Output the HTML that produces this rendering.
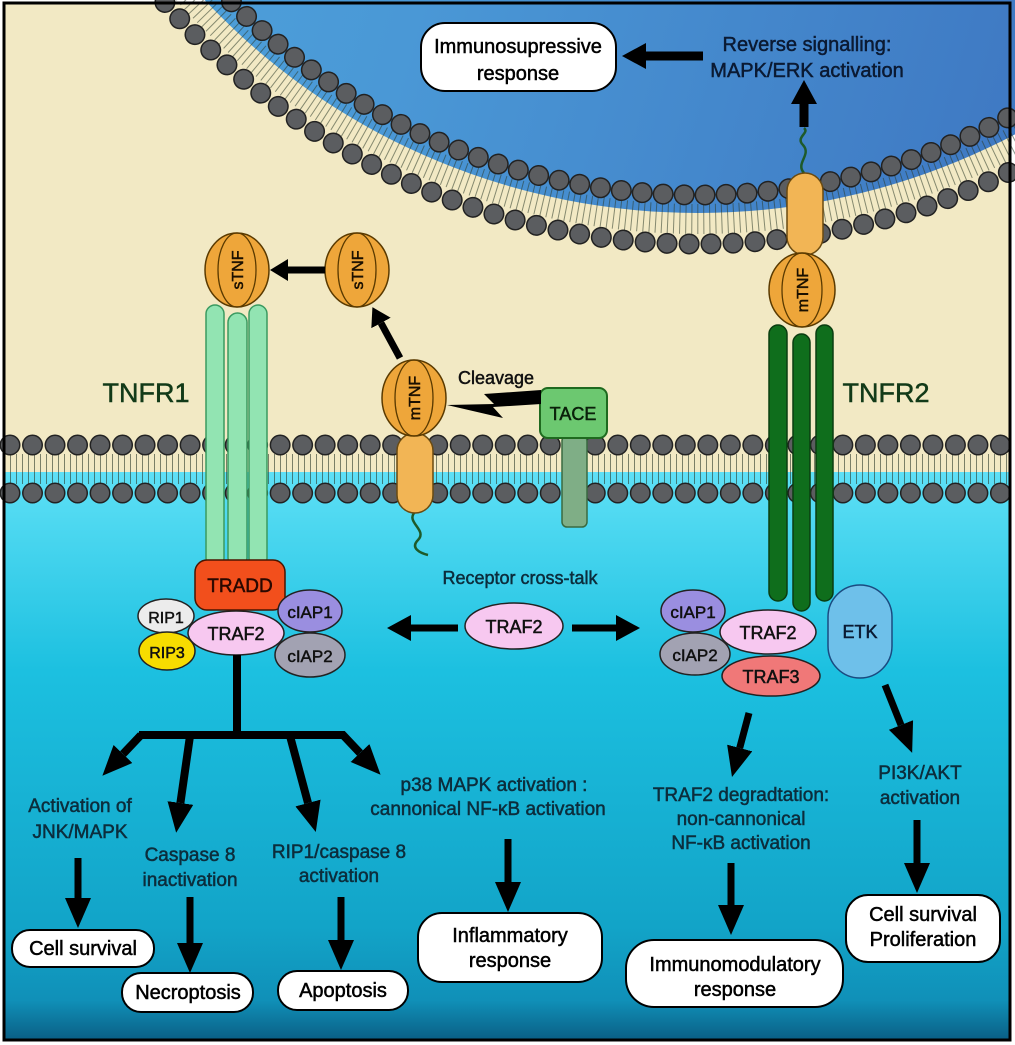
<!DOCTYPE html>
<html><head><meta charset="utf-8"><style>
html,body{margin:0;padding:0;background:#fff;}
svg{display:block;}
text{font-family:"Liberation Sans",sans-serif;stroke:currentColor;stroke-width:0.5px;}
</style></head><body>
<svg width="1015" height="1045" viewBox="0 0 1015 1045" xmlns="http://www.w3.org/2000/svg">
<defs>
<linearGradient id="cy" x1="0" y1="0" x2="0" y2="1">
<stop offset="0" stop-color="#5ee0f6"/>
<stop offset="0.35" stop-color="#1cc0e0"/>
<stop offset="0.8" stop-color="#12a4c8"/>
<stop offset="0.93" stop-color="#1090b8"/>
<stop offset="1" stop-color="#0a5f85"/>
</linearGradient>
<linearGradient id="bl" x1="0" y1="0" x2="1" y2="0.3">
<stop offset="0" stop-color="#52aee0"/>
<stop offset="0.5" stop-color="#4a98d6"/>
<stop offset="1" stop-color="#3d74c0"/>
</linearGradient>
<marker id="s" markerUnits="userSpaceOnUse" orient="auto" viewBox="0 0 10 10" refX="0" refY="5" markerWidth="18" markerHeight="22" preserveAspectRatio="none"><path d="M0,0 L10,5 L0,10 z" fill="#000"/></marker>
<marker id="m" markerUnits="userSpaceOnUse" orient="auto" viewBox="0 0 10 10" refX="0" refY="5" markerWidth="24" markerHeight="26" preserveAspectRatio="none"><path d="M0,0 L10,5 L0,10 z" fill="#000"/></marker>
<marker id="b" markerUnits="userSpaceOnUse" orient="auto" viewBox="0 0 10 10" refX="0" refY="5" markerWidth="30" markerHeight="26" preserveAspectRatio="none"><path d="M0,0 L10,5 L0,10 z" fill="#000"/></marker>
</defs>

<rect x="0" y="0" width="1015" height="1045" fill="#fff"/>
<rect x="4" y="3" width="1006" height="470" fill="#f2e9c4"/>
<rect x="4" y="472" width="1006" height="568" fill="url(#cy)"/>

<g>
<circle cx="698" cy="-465" r="678" fill="url(#bl)"/>
<circle cx="698" cy="-465" r="684" fill="none" stroke="#2b3a2a" stroke-width="30" stroke-dasharray="1 5" opacity="0.55"/>
<circle cx="698" cy="-465" r="709" fill="none" stroke="#222" stroke-width="21" stroke-dasharray="0.01 22" stroke-linecap="round"/>
<circle cx="698" cy="-465" r="709" fill="none" stroke="#5b5d60" stroke-width="18" stroke-dasharray="0.01 22" stroke-linecap="round"/>
<circle cx="698" cy="-465" r="660" fill="none" stroke="#222" stroke-width="21" stroke-dasharray="0.01 21" stroke-linecap="round"/>
<circle cx="698" cy="-465" r="660" fill="none" stroke="#5b5d60" stroke-width="18" stroke-dasharray="0.01 21" stroke-linecap="round"/>
</g>

<line x1="4" y1="469" x2="1010" y2="469" stroke="#2b3a2a" stroke-width="30" stroke-dasharray="1 5" opacity="0.6"/>
<line x1="10" y1="445" x2="1010" y2="445" stroke="#222" stroke-width="21" stroke-dasharray="0.01 22.5" stroke-linecap="round"/>
<line x1="10" y1="445" x2="1010" y2="445" stroke="#5b5d60" stroke-width="18" stroke-dasharray="0.01 22.5" stroke-linecap="round"/>
<line x1="10" y1="493" x2="1010" y2="493" stroke="#222" stroke-width="21" stroke-dasharray="0.01 22.5" stroke-linecap="round"/>
<line x1="10" y1="493" x2="1010" y2="493" stroke="#5b5d60" stroke-width="18" stroke-dasharray="0.01 22.5" stroke-linecap="round"/>

<rect x="421" y="23" width="195" height="68" rx="24" fill="#fff" stroke="#000" stroke-width="2"/>
<text x="518" y="53" font-size="20" text-anchor="middle" fill="#000" color="#000">Immunosupressive</text>
<text x="518" y="80" font-size="20" text-anchor="middle" fill="#000" color="#000">response</text>
<text x="807" y="51" font-size="20" text-anchor="middle" fill="#0b1a33" color="#0b1a33">Reverse signalling:</text>
<text x="807" y="77" font-size="20" text-anchor="middle" fill="#0b1a33" color="#0b1a33">MAPK/ERK activation</text>
<line x1="703" y1="56" x2="646" y2="56" stroke="#000" stroke-width="9" marker-end="url(#m)"/>
<line x1="804" y1="127" x2="804" y2="104" stroke="#000" stroke-width="9" marker-end="url(#m)"/>
<path d="M804,173 C795,163 812,155 803,145 C795,137 810,133 804,128" fill="none" stroke="#1e5a2a" stroke-width="2.5"/>

<rect x="787" y="173" width="36" height="82" rx="18" fill="#f2b555" stroke="#6a4a10" stroke-width="1.5"/>
<g>
<ellipse cx="802" cy="290" rx="33" ry="37" fill="#eea63a" stroke="#5a3a00" stroke-width="1.5"/>
<ellipse cx="802" cy="290" rx="20" ry="37" fill="none" stroke="#5a3a00" stroke-width="1.3"/>
<text x="0" y="0" font-size="16" text-anchor="middle" fill="#1a1000" color="#1a1000" transform="translate(808,290) rotate(-90)">mTNF</text>
</g>
<rect x="769" y="325" width="18" height="276" rx="9" fill="#0f6e1c" stroke="#0a3d10" stroke-width="1.5"/>
<rect x="793" y="334" width="17" height="277" rx="8.5" fill="#0f6e1c" stroke="#0a3d10" stroke-width="1.5"/>
<rect x="816" y="325" width="17" height="276" rx="8.5" fill="#0f6e1c" stroke="#0a3d10" stroke-width="1.5"/>
<text x="886" y="402" font-size="27" text-anchor="middle" fill="#123a18" color="#123a18">TNFR2</text>

<rect x="206" y="305" width="18" height="262" rx="9" fill="#92e4b2" stroke="#3a9a60" stroke-width="1.5"/>
<rect x="228" y="313" width="19" height="254" rx="9.5" fill="#92e4b2" stroke="#3a9a60" stroke-width="1.5"/>
<rect x="249" y="305" width="18" height="262" rx="9" fill="#92e4b2" stroke="#3a9a60" stroke-width="1.5"/>
<text x="146" y="402" font-size="27" text-anchor="middle" fill="#123a18" color="#123a18">TNFR1</text>

<g>
<ellipse cx="237" cy="270" rx="32" ry="37" fill="#eea63a" stroke="#5a3a00" stroke-width="1.5"/>
<ellipse cx="237" cy="270" rx="19" ry="37" fill="none" stroke="#5a3a00" stroke-width="1.3"/>
<text x="0" y="0" font-size="16" text-anchor="middle" fill="#1a1000" color="#1a1000" transform="translate(243,270) rotate(-90)">sTNF</text>
</g>
<g>
<ellipse cx="357" cy="270" rx="32" ry="37" fill="#eea63a" stroke="#5a3a00" stroke-width="1.5"/>
<ellipse cx="357" cy="270" rx="19" ry="37" fill="none" stroke="#5a3a00" stroke-width="1.3"/>
<text x="0" y="0" font-size="16" text-anchor="middle" fill="#1a1000" color="#1a1000" transform="translate(363,270) rotate(-90)">sTNF</text>
</g>
<line x1="325" y1="270" x2="288" y2="270" stroke="#000" stroke-width="7" marker-end="url(#s)"/>
<line x1="400" y1="358" x2="381" y2="323" stroke="#000" stroke-width="7" marker-end="url(#s)"/>

<path d="M415,512 C405,522 428,530 418,540 C410,548 420,553 428,555" fill="none" stroke="#1e5a2a" stroke-width="2.5"/>
<rect x="397" y="433" width="36" height="80" rx="18" fill="#f2b555" stroke="#6a4a10" stroke-width="1.5"/>
<g>
<ellipse cx="414" cy="398" rx="32" ry="38" fill="#eea63a" stroke="#5a3a00" stroke-width="1.5"/>
<ellipse cx="414" cy="398" rx="19" ry="38" fill="none" stroke="#5a3a00" stroke-width="1.3"/>
<text x="0" y="0" font-size="16" text-anchor="middle" fill="#1a1000" color="#1a1000" transform="translate(420,398) rotate(-90)">mTNF</text>
</g>
<text x="496" y="384" font-size="18" text-anchor="middle" fill="#111" color="#111">Cleavage</text>
<rect x="562" y="436" width="25" height="91" rx="5" fill="#7fae86" stroke="#3a6a40" stroke-width="1.5"/>
<rect x="540" y="388" width="67" height="50" rx="8" fill="#6cc870" stroke="#1f6a1f" stroke-width="2"/>
<text x="573" y="420" font-size="18" text-anchor="middle" fill="#0a200a" color="#0a200a">TACE</text>
<polygon points="541,390 484,394 494,404 447,405 503,418 493,407 541,404" fill="#000"/>

<rect x="195" y="560" width="90" height="50" rx="12" fill="#f24f1c" stroke="#4a1500" stroke-width="1.5"/>
<text x="240" y="592" font-size="19" text-anchor="middle" fill="#2a0800" color="#2a0800">TRADD</text>
<ellipse cx="166" cy="616" rx="28" ry="17" fill="#ececec" stroke="#222" stroke-width="1.5"/>
<text x="166" y="623" font-size="16" text-anchor="middle" fill="#111" color="#111">RIP1</text>
<ellipse cx="167" cy="651" rx="28" ry="19" fill="#f7dc00" stroke="#222" stroke-width="1.5"/>
<text x="167" y="658" font-size="16" text-anchor="middle" fill="#111" color="#111">RIP3</text>
<ellipse cx="310" cy="611" rx="32" ry="21" fill="#9a8ee0" stroke="#222" stroke-width="1.5"/>
<text x="310" y="618" font-size="17" text-anchor="middle" fill="#111" color="#111">cIAP1</text>
<ellipse cx="310" cy="655" rx="35" ry="22" fill="#a2a2b2" stroke="#222" stroke-width="1.5"/>
<text x="310" y="662" font-size="17" text-anchor="middle" fill="#111" color="#111">cIAP2</text>
<ellipse cx="236" cy="633" rx="48" ry="22" fill="#f7c8f0" stroke="#222" stroke-width="1.5"/>
<text x="236" y="640" font-size="18" text-anchor="middle" fill="#111" color="#111">TRAF2</text>

<text x="520" y="584" font-size="18" text-anchor="middle" fill="#0c2d3c" color="#0c2d3c">Receptor cross-talk</text>
<ellipse cx="514" cy="626" rx="49" ry="23" fill="#f7c8f0" stroke="#222" stroke-width="1.5"/>
<text x="514" y="633" font-size="18" text-anchor="middle" fill="#111" color="#111">TRAF2</text>
<line x1="458" y1="628" x2="411" y2="628" stroke="#000" stroke-width="7" marker-end="url(#m)"/>
<line x1="572" y1="628" x2="616" y2="628" stroke="#000" stroke-width="7" marker-end="url(#m)"/>

<rect x="828" y="585" width="64" height="93" rx="32" fill="#6ec0ea" stroke="#1a4a80" stroke-width="1.5"/>
<text x="860" y="638" font-size="18" text-anchor="middle" fill="#0a1a33" color="#0a1a33">ETK</text>
<ellipse cx="693" cy="611" rx="32" ry="21" fill="#9a8ee0" stroke="#222" stroke-width="1.5"/>
<text x="693" y="618" font-size="17" text-anchor="middle" fill="#111" color="#111">cIAP1</text>
<ellipse cx="695" cy="654" rx="35" ry="21" fill="#a2a2b2" stroke="#222" stroke-width="1.5"/>
<text x="695" y="661" font-size="17" text-anchor="middle" fill="#111" color="#111">cIAP2</text>
<ellipse cx="771" cy="676" rx="49" ry="20" fill="#f07878" stroke="#222" stroke-width="1.5"/>
<text x="771" y="683" font-size="18" text-anchor="middle" fill="#111" color="#111">TRAF3</text>
<ellipse cx="768" cy="632" rx="48" ry="22" fill="#f7c8f0" stroke="#222" stroke-width="1.5"/>
<text x="768" y="639" font-size="18" text-anchor="middle" fill="#111" color="#111">TRAF2</text>

<line x1="237" y1="655" x2="237" y2="738" stroke="#000" stroke-width="8"/>
<path d="M139,735 L343,735 L360,753" fill="none" stroke="#000" stroke-width="8" stroke-linejoin="miter" marker-end="url(#b)"/>
<line x1="141" y1="735" x2="123" y2="754" stroke="#000" stroke-width="8" marker-end="url(#b)"/>
<line x1="190" y1="736" x2="180.4" y2="803" stroke="#000" stroke-width="8" marker-end="url(#b)"/>
<line x1="290" y1="736" x2="308" y2="803" stroke="#000" stroke-width="8" marker-end="url(#b)"/>

<g font-size="19" fill="#0c2d3c" color="#0c2d3c" text-anchor="middle">
<text x="80" y="812">Activation of</text>
<text x="80" y="838">JNK/MAPK</text>
<text x="190" y="861">Caspase 8</text>
<text x="190" y="886">inactivation</text>
<text x="339" y="858">RIP1/caspase 8</text>
<text x="339" y="882">activation</text>
<text x="494" y="791">p38 MAPK activation :</text>
<text x="488" y="815">cannonical NF-κB activation</text>
<text x="741" y="801">TRAF2 degradtation:</text>
<text x="741" y="825">non-cannonical</text>
<text x="741" y="849">NF-κB activation</text>
<text x="920" y="779">PI3K/AKT</text>
<text x="920" y="804">activation</text>
</g>

<g stroke="#000" stroke-width="7">
<line x1="78" y1="858" x2="78" y2="898" marker-end="url(#b)"/>
<line x1="190" y1="897" x2="190" y2="943" marker-end="url(#b)"/>
<line x1="341" y1="897" x2="341" y2="940" marker-end="url(#b)"/>
<line x1="508" y1="839" x2="508" y2="882" marker-end="url(#b)"/>
<line x1="731" y1="863" x2="731" y2="905" marker-end="url(#b)"/>
<line x1="917" y1="820" x2="917" y2="863" marker-end="url(#b)"/>
<line x1="749" y1="713" x2="739.7" y2="748" marker-end="url(#b)"/>
<line x1="885" y1="685" x2="901" y2="725" marker-end="url(#b)"/>
</g>

<g fill="#fff" stroke="#000" stroke-width="2">
<rect x="12" y="930" width="142" height="37" rx="18"/>
<rect x="122" y="973" width="131" height="39" rx="19"/>
<rect x="278" y="971" width="130" height="39" rx="19"/>
<rect x="418" y="913" width="184" height="69" rx="24"/>
<rect x="626" y="940" width="217" height="67" rx="28"/>
<rect x="846" y="895" width="154" height="67" rx="22"/>
</g>
<g font-size="20" fill="#000" color="#000" text-anchor="middle">
<text x="83" y="955">Cell survival</text>
<text x="188" y="999">Necroptosis</text>
<text x="343" y="997">Apoptosis</text>
<text x="510" y="942">Inflammatory</text>
<text x="510" y="967">response</text>
<text x="735" y="971">Immunomodulatory</text>
<text x="735" y="996">response</text>
<text x="923" y="921">Cell survival</text>
<text x="923" y="946">Proliferation</text>
</g>

<rect x="4" y="3" width="1006" height="1037" fill="none" stroke="#000" stroke-width="3"/>
</svg>
</body></html>
